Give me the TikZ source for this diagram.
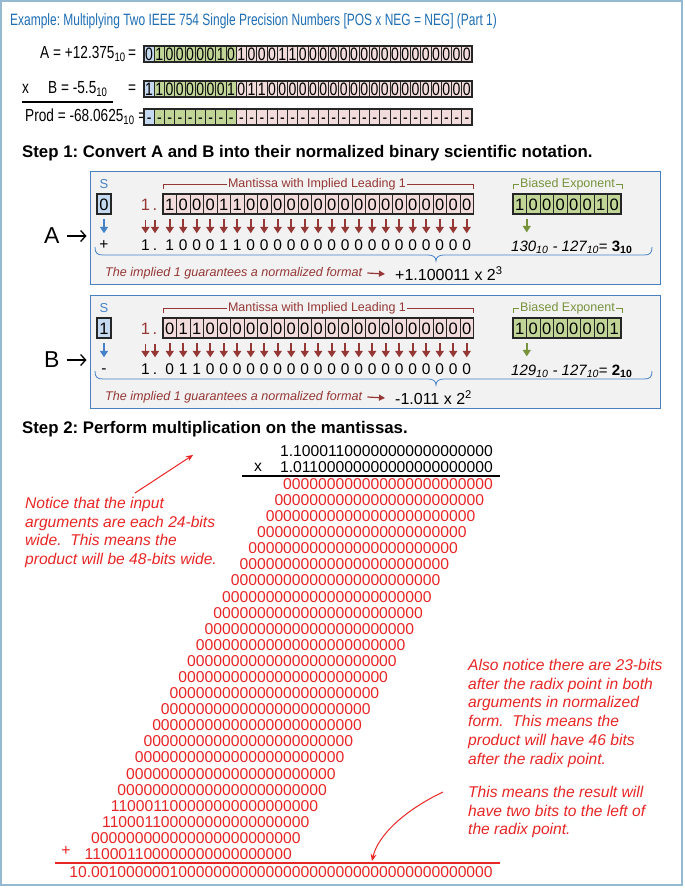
\documentclass[tikz,border=0pt]{standalone}
\usepackage{fontspec}
\setmainfont{Liberation Sans}
\newfontfamily\narrowf[FakeStretch=0.78]{Liberation Sans}
\newfontfamily\titlef[FakeStretch=0.73]{Liberation Sans}
\usetikzlibrary{arrows.meta}
\definecolor{signc}{RGB}{197,217,241}
\definecolor{expc}{RGB}{192,213,150}
\definecolor{mantc}{RGB}{242,220,219}
\definecolor{darkred}{RGB}{149,55,53}
\definecolor{boxc}{RGB}{74,128,190}
\definecolor{boxfill}{RGB}{242,242,242}
\definecolor{redc}{RGB}{232,38,38}
\definecolor{titleblue}{RGB}{31,110,180}
\definecolor{greenc}{RGB}{119,147,60}
\definecolor{sblue}{RGB}{70,130,200}
\definecolor{framec}{RGB}{150,185,210}
\def\zsix{000000}
\def\zz{\zsix\zsix\zsix\zsix}
\def\ones{1100011\zsix\zsix00000}
\frenchspacing
\tikzset{
 tcell/.style={draw=black!85, line width=0.7, minimum width=10.25, minimum height=16, inner sep=0, text height=12.5, text depth=0, font=\narrowf\fontsize{18}{18}\selectfont},
 bcell/.style={draw=black!85, line width=0.7, minimum width=13.5, minimum height=20, inner sep=0, text height=12, text depth=0, font=\fontsize{16.5}{16}\selectfont},
 toplbl/.style={anchor=west, inner sep=0, font=\narrowf\fontsize{17.5}{18}\selectfont},
 heading/.style={anchor=west, inner sep=0, font=\bfseries\fontsize{16.8}{20}\selectfont},
 stxt/.style={inner sep=0, text=sblue, font=\fontsize{13}{13}\selectfont},
 drtxt/.style={inner sep=0, text=darkred, text height=12, text depth=0, font=\fontsize{16.5}{16}\selectfont},
 dtxt/.style={inner sep=0, text height=11, text depth=0, font=\fontsize{15.5}{16}\selectfont},
 lbltxt/.style={inner sep=1, fill=boxfill, font=\fontsize{12.5}{13}\selectfont},
 redarr/.style={darkred, line width=1.8, -{Triangle[length=6.5pt,width=8pt]}},
 bluarr/.style={sblue, line width=1.8, -{Triangle[length=6.5pt,width=8pt]}},
 grnarr/.style={greenc, line width=1.8, -{Triangle[length=6.5pt,width=8pt]}},
 boxst/.style={draw=boxc, fill=boxfill, line width=1, minimum width=570, minimum height=113, inner sep=0},
 redrow/.style={inner sep=0, text=redc, font=\fontsize{15.7}{16}\selectfont},
 blkrow/.style={inner sep=0, font=\fontsize{15.7}{16}\selectfont},
 note/.style={inner sep=0, align=left, text=redc, font=\itshape\fontsize{15.6}{18.7}\selectfont},
 biglbl/.style={anchor=west, inner sep=0, font=\fontsize{23}{23}\selectfont},
 labarr/.style={black, line width=1.3, -{Straight Barb[length=5pt,width=11pt]}},
}
\newcommand\toprow[3]{%
 \foreach \b [count=\i from 0] in {#3}{%
  \ifnum\i=0 \def\cc{signc}\else\ifnum\i<9 \def\cc{expc}\else\def\cc{mantc}\fi\fi
  \node[tcell, fill=\cc] (#1\i) at ({149.125+10.25*\i},#2) {\b};
 }%
 \draw[black!85, line width=1.1] (144,#2-8) rectangle (472,#2+8);
}
\newcommand\stepbox[8]{%
 \begin{scope}[yshift=-#2pt]
  \node[boxst] (#1box) at (375,227.5) {};
  \node[stxt] (#1S) at (104,184) {S};
  \node[bcell, fill=signc, minimum width=14] (#1sg) at (104,204) {#3};
  \draw[black!85, line width=1.1] (97,194) rectangle (111,214);
  \node[drtxt] (#1one) at (145.5,204) {1};
  \node[drtxt] (#1dot) at (155,204) {.};
  \node[dtxt] (#1sgc) at (104,244) {#4};
  \node[dtxt] (#1lo) at (145.5,245) {1};
  \node[dtxt] (#1ldot) at (155,245) {.};
  \draw[bluarr, shorten <=5pt, shorten >=5pt] (#1sg.south) -- (#1sgc.north);
  \draw[redarr, shorten <=10pt, shorten >=6pt] (#1one.south) -- (#1lo.north);
  \draw[redarr, shorten <=10pt, shorten >=6pt] (#1dot.south) -- (#1ldot.north);
  \foreach \b [count=\i from 0] in {#5}{%
   \node[bcell, fill=mantc] (#1m\i) at ({169.75+13.5*\i},204) {\b};
   \node[dtxt] (#1d\i) at ({169.75+13.5*\i},245) {\b};
   \draw[redarr, shorten <=5pt, shorten >=6pt] (#1m\i.south) -- (#1d\i.north);
  }
  \draw[black!85, line width=1.1] (163,194) rectangle (473.5,214);
  \draw[darkred, line width=1] (163,189) -- (163,184) -- (473,184) -- (473,189);
  \node[lbltxt, text=darkred] (#1ml) at (317,184) {Mantissa with Implied Leading 1};
  \foreach \b [count=\i from 0] in {#6}{%
   \node[bcell, fill=expc] (#1e\i) at ({519.75+13.5*\i},204) {\b};
  }
  \draw[black!85, line width=1.1] (513,194) rectangle (621,214);
  \draw[greenc, line width=1] (513,189) -- (513,184) -- (622,184) -- (622,189);
  \node[lbltxt, text=greenc] (#1el) at (567.5,184) {Biased Exponent};
  \node[anchor=west, inner sep=0, font=\fontsize{15}{16}\selectfont] (#1ef) at (511,247) {#7};
  \draw[grnarr] ([xshift=7pt,yshift=-5pt]#1e0.south) -- ([xshift=7pt,yshift=-18pt]#1e0.south);
  \draw[sblue, line width=0.8] (95,247) .. controls (95,253) and (97,255) .. (103,255) -- (428,255) .. controls (433,255) and (436,257) .. (436,261) .. controls (436,257) and (439,255) .. (444,255) -- (644,255) .. controls (650,255) and (652,253) .. (652,247);
  \node[anchor=west, inner sep=0, text=darkred, font=\itshape\fontsize{12.6}{13}\selectfont] (#1imp) at (105,273) {The implied 1 guarantees a normalized format};
  \node[anchor=west, inner sep=0, font=\fontsize{16}{16}\selectfont] (#1res) at (395,274) {#8};
  \draw[darkred, line width=1.2, -{Triangle[length=6pt,width=6pt]}] ([xshift=5pt]#1imp.east) -- ([xshift=-10pt]#1res.west);
 \end{scope}
}
\begin{document}
\begin{tikzpicture}[x=1pt,y=-1pt]
\useasboundingbox (0,0) rectangle (685,892);
\fill[white] (0,0) rectangle (685,892);
\draw[framec, line width=1.5] (1,1) rectangle (682,885);
% title
\node[anchor=west, inner sep=0, text=titleblue, font=\titlef\fontsize{16.4}{18}\selectfont] (title) at (10,21) {Example: Multiplying Two IEEE 754 Single Precision Numbers [POS x NEG = NEG] (Part 1)};
% top rows
\node[toplbl] (la) at (40,54) {A = +12.375\textsubscript{10}};
\node[toplbl] (lae) at (128,54) {=};
\node[toplbl] (lx) at (22,89) {x};
\node[toplbl] (lb) at (48,89) {B = -5.5\textsubscript{10}};
\node[toplbl] (lbe) at (128,89) {=};
\node[toplbl] (lp) at (25,117) {Prod = -68.0625\textsubscript{10} =};
\draw[black, line width=1.5] (22,102) -- (113,102);
\toprow{ta}{54}{0,1,0,0,0,0,0,1,0,1,0,0,0,1,1,0,0,0,0,0,0,0,0,0,0,0,0,0,0,0,0,0}
\toprow{tb}{89}{1,1,0,0,0,0,0,0,1,0,1,1,0,0,0,0,0,0,0,0,0,0,0,0,0,0,0,0,0,0,0,0}
\toprow{tp}{117}{-,-,-,-,-,-,-,-,-,-,-,-,-,-,-,-,-,-,-,-,-,-,-,-,-,-,-,-,-,-,-,-}
% step 1
\node[heading] (s1) at (22,153) {Step 1: Convert A and B into their normalized binary scientific notation.};
\stepbox{a}{0}{0}{+}{1,0,0,0,1,1,0,0,0,0,0,0,0,0,0,0,0,0,0,0,0,0,0}{1,0,0,0,0,0,1,0}{\textit{130\textsubscript{10} - 127\textsubscript{10}}= \textbf{3\textsubscript{10}}}{+1.100011 x 2\textsuperscript{3}}
\stepbox{b}{124}{1}{-}{0,1,1,0,0,0,0,0,0,0,0,0,0,0,0,0,0,0,0,0,0,0,0}{1,0,0,0,0,0,0,1}{\textit{129\textsubscript{10} - 127\textsubscript{10}}= \textbf{2\textsubscript{10}}}{-1.011 x 2\textsuperscript{2}}
\node[biglbl] (arA) at (44,236) {A};
\node[biglbl] (arB) at (44,360) {B};
\draw[labarr] ([xshift=7pt]arA.east) -- ([xshift=-3pt]abox.west |- arA.east);
\draw[labarr] ([xshift=7pt]arB.east) -- ([xshift=-3pt]bbox.west |- arB.east);
% step 2
\node[heading] (s2) at (22,429) {Step 2: Perform multiplication on the mantissas.};
\node[blkrow, anchor=east] (mc) at (493,451) {1.100011\zsix\zsix00000};
\node[blkrow, anchor=east] (mp) at (493,467) {1.011\zsix\zsix\zsix00};
\node[blkrow] (mx) at (258,467) {x};
\draw[black, line width=1.2] (242,476) -- (500,476);
\foreach \i in {0,...,23}{%
 \ifnum\i<20 \def\rt{\zz}\else\ifnum\i=22 \def\rt{\zz}\else\def\rt{\ones}\fi\fi
 \node[redrow, anchor=east] (r\i) at ({493-8.732*\i},{484+16.09*\i}) {\rt};
}
\node[redrow] (plus) at (66,851) {+};
\draw[redc, line width=1.2] (55,863) -- (500,863);
\node[redrow, anchor=east] (res) at (493,872) {10.0010000001\zsix\zsix\zsix\zsix\zsix\zsix};
% notes
\node[note, anchor=north west] (n1) at (25,497) {Notice that the input\\arguments are each 24-bits\\wide.~ This means the\\product will be 48-bits wide.};
\coordinate (n1a) at (135,493);
\coordinate (n1b) at (193,455);
\draw[redc, line width=1, -{Stealth[length=7pt,width=6pt]}] (n1a) -- (n1b);
\node[note, anchor=north west] (n2) at (468,659) {Also notice there are 23-bits\\after the radix point in both\\arguments in normalized\\form.~ This means the\\product will have 46 bits\\after the radix point.};
\node[note, anchor=north west] (n3) at (468,786) {This means the result will\\have two bits to the left of\\the radix point.};
\coordinate (n3a) at (443,792);
\coordinate (n3b) at (372,861);
\draw[redc, line width=1, -{Stealth[length=7pt,width=6pt]}] (n3a) .. controls (405,810) and (378,835) .. (n3b);
\end{tikzpicture}
\end{document}
